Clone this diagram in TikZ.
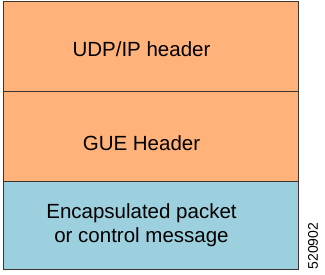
\documentclass[tikz,border=0pt]{standalone}
\usepackage{fontspec}
\setmainfont{Liberation Sans}
\usetikzlibrary{positioning}
\definecolor{hdrorange}{RGB}{255,178,122}
\definecolor{pktblue}{RGB}{157,208,222}
\definecolor{edgegray}{RGB}{60,52,48}
\begin{document}
\begin{tikzpicture}[x=1pt, y=-1pt,
    layer/.style={draw=edgegray, line width=1pt, rectangle, minimum width=295pt,
                  inner sep=0pt, outer sep=0pt},
    txt/.style={font=\fontsize{20.5}{23.5}\selectfont, align=center, inner sep=0pt}]
    \useasboundingbox (0,0) rectangle (325,274);
    \node[layer, fill=hdrorange, minimum height=90pt, anchor=north west] (udp) at (3.5,1.5) {};
    \node[layer, fill=hdrorange, minimum height=90pt, below=0pt of udp] (gue) {};
    \node[layer, fill=pktblue, minimum height=87.5pt, below=0pt of gue] (pkt) {};
    \node[txt] (udptxt) at (141.5,49) {UDP/IP header};
    \node[txt] (guetxt) at (141.5,143) {GUE Header};
    \node[txt] (pkttxt) at (141.5,225) {Encapsulated packet\\or control message};
    \node[font=\fontsize{14}{16}\selectfont, rotate=90, inner sep=0pt] (figno) at (313,246) {520902};
\end{tikzpicture}
\end{document}
